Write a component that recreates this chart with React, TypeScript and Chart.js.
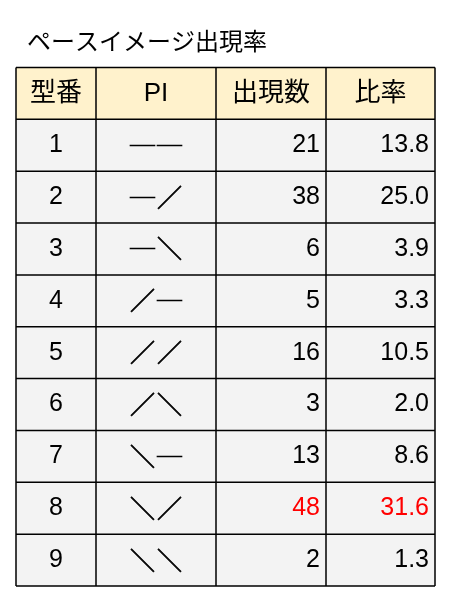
import React, { useEffect, useRef } from 'react';
import { Chart, ChartConfiguration, Plugin, registerables } from 'chart.js';

Chart.register(...registerables);

const titleText = 'ペースイメージ出現率';
const headers = ['型番', 'PI', '出現数', '比率'];
const typeNumbers = [1, 2, 3, 4, 5, 6, 7, 8, 9];
const paceImages = ['──', '─／', '─＼', '／─', '／／', '／＼', '＼─', '＼／', '＼＼'];
const counts = [21, 38, 6, 5, 16, 3, 13, 48, 2];
const ratios = [13.8, 25.0, 3.9, 3.3, 10.5, 2.0, 8.6, 31.6, 1.3];
const highlightType = 8;

// layout only: relative column widths
const colWidths = [80, 120, 110, 109];
const colAlign: CanvasTextAlign[] = ['center', 'center', 'right', 'right'];

const latin = '"Liberation Sans", Arial, "Noto Sans CJK JP", sans-serif';
const cjk = '"Noto Sans CJK JP", "Liberation Sans", sans-serif';

const tablePlugin: Plugin = {
  id: 'tableCells',
  beforeDatasetsDraw(chart) {
    const { ctx, chartArea } = chart;
    const x = chart.scales.x;
    const y = chart.scales.y;
    const edges = [0];
    colWidths.forEach((w, i) => edges.push(edges[i] + w));
    const rows = typeNumbers.length + 1;

    ctx.save();
    // title
    ctx.fillStyle = '#000';
    ctx.font = `24px ${cjk}`;
    ctx.textAlign = 'left';
    ctx.textBaseline = 'middle';
    ctx.fillText(titleText, chartArea.left + 11, 41);

    // fills
    for (let r = 0; r < rows; r++) {
      const top = y.getPixelForValue(r);
      const bottom = y.getPixelForValue(r + 1);
      ctx.fillStyle = r === 0 ? '#fff2cc' : '#f3f3f3';
      ctx.fillRect(x.getPixelForValue(0), top, x.getPixelForValue(edges[edges.length - 1]) - x.getPixelForValue(0), bottom - top);
    }

    // text
    for (let r = 0; r < rows; r++) {
      const mid = (y.getPixelForValue(r) + y.getPixelForValue(r + 1)) / 2;
      for (let c = 0; c < headers.length; c++) {
        const left = x.getPixelForValue(edges[c]);
        const right = x.getPixelForValue(edges[c + 1]);
        let txt = '';
        let color = '#000';
        let font = `25px ${latin}`;
        let align = colAlign[c];
        let spacing = '0px';
        let shift = 0;
        let heavy = false;
        if (r === 0) {
          txt = headers[c];
          font = `26px ${latin}`;
          align = 'center';
        } else {
          const i = r - 1;
          if (c === 0) txt = String(typeNumbers[i]);
          if (c === 1) {
            txt = paceImages[i];
            font = `25px ${cjk}`;
            spacing = '2px';
            shift = 1;
            heavy = true;
          }
          if (c === 2) txt = String(counts[i]);
          if (c === 3) txt = ratios[i].toFixed(1);
          if (c >= 2 && typeNumbers[i] === highlightType) color = '#ff0000';
        }
        ctx.fillStyle = color;
        ctx.font = font;
        ctx.textAlign = align;
        (ctx as any).letterSpacing = spacing;
        const tx = align === 'center' ? (left + right) / 2 + shift : right - 6;
        ctx.fillText(txt, tx, mid);
        if (heavy) {
          ctx.strokeStyle = color;
          ctx.lineWidth = 0.7;
          ctx.strokeText(txt, tx, mid);
        }
      }
    }
    (ctx as any).letterSpacing = '0px';

    // grid lines
    ctx.strokeStyle = '#000';
    ctx.lineWidth = 1.5;
    ctx.beginPath();
    for (let r = 0; r <= rows; r++) {
      const py = y.getPixelForValue(r);
      ctx.moveTo(x.getPixelForValue(0), py);
      ctx.lineTo(x.getPixelForValue(edges[edges.length - 1]), py);
    }
    edges.forEach((e) => {
      const px = x.getPixelForValue(e);
      ctx.moveTo(px, y.getPixelForValue(0));
      ctx.lineTo(px, y.getPixelForValue(rows));
    });
    ctx.stroke();
    ctx.restore();
  },
};

const App: React.FC = () => {
  const canvasRef = useRef<HTMLCanvasElement>(null);
  const chartRef = useRef<Chart | null>(null);

  useEffect(() => {
    if (!canvasRef.current) return;
    const ctx = canvasRef.current.getContext('2d');
    if (!ctx) return;
    if (chartRef.current) chartRef.current.destroy();

    const total = colWidths.reduce((a, b) => a + b, 0);
    const config: ChartConfiguration = {
      type: 'scatter',
      data: {
        datasets: [{
          label: 'rows',
          data: counts.map((_, i) => ({ x: colWidths[0] / 2, y: i + 1.5 })),
          pointRadius: 0,
        }],
      },
      options: {
        animation: false,
        responsive: true,
        maintainAspectRatio: false,
        layout: { padding: { left: 16, right: 16, top: 67.5, bottom: 19 } },
        plugins: { legend: { display: false }, tooltip: { enabled: false } },
        scales: {
          x: { type: 'linear', display: false, min: 0, max: total },
          y: { type: 'linear', display: false, min: 0, max: typeNumbers.length + 1, reverse: true },
        },
      },
      plugins: [tablePlugin],
    };

    chartRef.current = new Chart(ctx, config);
    return () => {
      if (chartRef.current) {
        chartRef.current.destroy();
        chartRef.current = null;
      }
    };
  }, []);

  return (
    <div style={{ position: 'fixed', left: 0, top: 0, width: 451, height: 605, background: '#fff' }}>
      <canvas ref={canvasRef}></canvas>
    </div>
  );
};

export default App;
